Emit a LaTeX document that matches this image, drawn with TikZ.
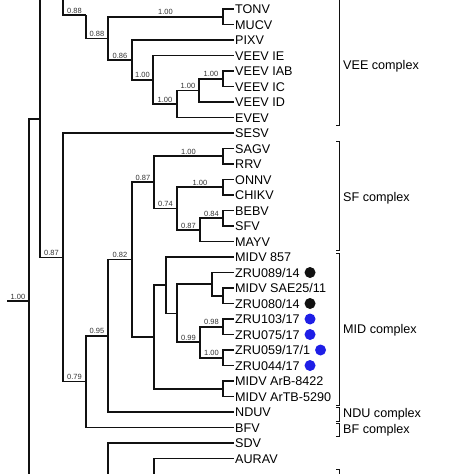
\documentclass[tikz,border=0pt]{standalone}
\usepackage{fontspec}
\setmainfont{Liberation Sans}
\usepackage{tikz}
\usetikzlibrary{positioning}
\definecolor{treeblack}{HTML}{111111}
\definecolor{supportgrey}{HTML}{333333}
\definecolor{spotblue}{HTML}{1E1EE6}

\begin{document}
\begin{tikzpicture}[x=1pt,y=-1pt,
  branch/.style={treeblack, line width=1.6pt},
  taxon/.style={anchor=west, inner xsep=1.5pt, inner ysep=0pt, text height=9pt, text depth=0pt, font=\fontsize{12.6}{14}\selectfont},
  complexname/.style={taxon, inner xsep=0pt},
  bs/.style={above, inner sep=1pt, text=supportgrey, font=\fontsize{7.5}{8}\selectfont},
  bracket/.style={treeblack, line width=0.9pt},
  spot/.style={circle, inner sep=0pt, minimum size=11pt, fill=#1}]
\useasboundingbox (0,0) rectangle (474,474);
\clip (0,0) rectangle (474,474);
% taxa
\foreach \txt [count=\i] in {TONV, MUCV, PIXV, VEEV IE, VEEV IAB, VEEV IC, VEEV ID, EVEV, SESV, SAGV, RRV, ONNV, CHIKV, BEBV, SFV, MAYV, MIDV 857, ZRU089/14, MIDV SAE25/11, ZRU080/14, ZRU103/17, ZRU075/17, ZRU059/17/1, ZRU044/17, MIDV ArB-8422, MIDV ArTB-5290, NDUV, BFV, SDV, AURAV}
  \node[taxon] (l\i) at (233.5,{9+15.5*(\i-1)}) {\txt};
% internal nodes
\coordinate (nstub) at (7,301);
\coordinate (nroot) at (29,301);
\coordinate (n40) at (40,119);
\coordinate (n63) at (63,-19.5);
\coordinate (n86) at (86,15);
\coordinate (n108) at (108,38.4);
\coordinate (nTM) at (223,16.75);
\coordinate (n132) at (132,60);
\coordinate (n153) at (153,79.75);
\coordinate (n177) at (177,104);
\coordinate (n199) at (199,90.4);
\coordinate (nIAB) at (223,78.75);
\coordinate (n63b) at (63,257.3);
\coordinate (n86b) at (86,381.6);
\coordinate (n108b) at (108,335.75);
\coordinate (n132b) at (132,259.5);
\coordinate (nSF) at (154,182);
\coordinate (nSR) at (223,156.25);
\coordinate (nOCBSM) at (177,208.6);
\coordinate (nOC) at (223,187.25);
\coordinate (nBSM) at (200,229.9);
\coordinate (nBS) at (223,218.25);
\coordinate (n154) at (154,337);
\coordinate (n166) at (166,285.1);
\coordinate (n177m) at (177,313.3);
\coordinate (n212) at (212,284.1);
\coordinate (nSAE) at (223,295.75);
\coordinate (n200m) at (200,342.25);
\coordinate (n103) at (223,326.75);
\coordinate (n059) at (223,357.75);
\coordinate (nArB) at (223,388.75);
\coordinate (n108c) at (108,483);
\coordinate (n154c) at (154,500);
% branches
\draw[branch] (nstub) -- node[bs]{1.00} (nroot);
\foreach \p/\c in {nroot/n40, nroot/n108c, n40/n63, n132b/n154, n154/n166, n154/nArB, n166/n177m, n177m/n212, n212/nSAE, n108c/n154c}
  \draw[branch] (\p) |- (\c);
\foreach \p/\c/\v in {n40/n63b/0.87, n63/n86/0.88, n86/n108/0.88, n108/nTM/1.00, n108/n132/0.86, n132/n153/1.00, n153/n177/1.00, n177/n199/1.00, n199/nIAB/1.00, n63b/n86b/0.79, n86b/n108b/0.95, n108b/n132b/0.82, n132b/nSF/0.87, nSF/nSR/1.00, nSF/nOCBSM/0.74, nOCBSM/nOC/1.00, nOCBSM/nBSM/0.87, nBSM/nBS/0.84, n177m/n200m/0.99, n200m/n103/0.98, n200m/n059/1.00}
  \draw[branch] (\p) |- node[bs,pos=0.75]{\v} (\c);
\foreach \p/\c in {nTM/1, nTM/2, n132/3, n153/4, nIAB/5, nIAB/6, n199/7, n177/8, n63b/9, nSR/10, nSR/11, nOC/12, nOC/13, nBS/14, nBS/15, nBSM/16, n166/17, n212/18, nSAE/19, nSAE/20, n103/21, n103/22, n059/23, n059/24, nArB/25, nArB/26, n108b/27, n86b/28, n108c/29, n154c/30}
  \draw[branch] (\p) |- (l\c.west);
% isolates
\node[spot=treeblack, right=3pt of l18] (d18) {};
\node[spot=treeblack, right=3pt of l20] (d20) {};
\node[spot=spotblue, right=3pt of l21] (d21) {};
\node[spot=spotblue, right=3pt of l22] (d22) {};
\node[spot=spotblue, right=3pt of l23] (d23) {};
\node[spot=spotblue, right=3pt of l24] (d24) {};
% complexes
\foreach \ya/\yb in {-10/125, 141/250, 253/405, 407/421, 423/436, 469/490}
  \draw[bracket] (336,\ya) -- (339,\ya) -- (339,\yb) -- (336,\yb);
\node[complexname] (vee) at (343,65) {VEE complex};
\node[complexname] (sf) at (343,197) {SF complex};
\node[complexname] (mid) at (343,329) {MID complex};
\node[complexname] (ndu) at (343,413) {NDU complex};
\node[complexname] (bf) at (343,429) {BF complex};
\end{tikzpicture}
\end{document}
